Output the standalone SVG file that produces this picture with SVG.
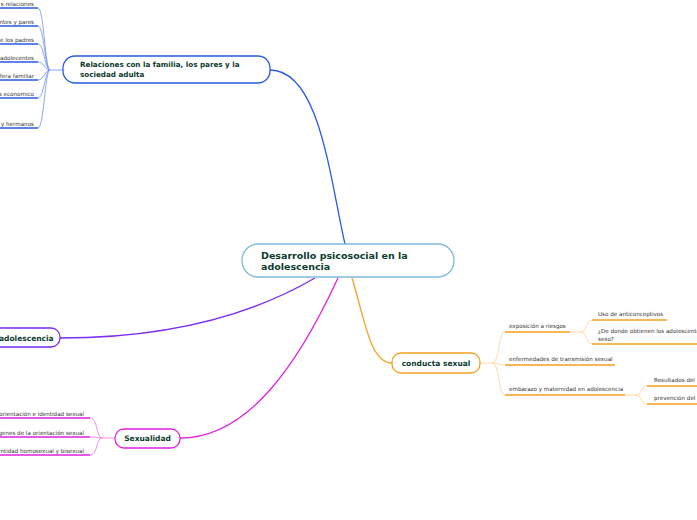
<svg xmlns="http://www.w3.org/2000/svg" width="697" height="520" viewBox="0 0 697 520">
<style>
.t{font-family:"DejaVu Sans",Verdana,sans-serif;font-size:5.6px;fill:#333}
.b{font-family:"DejaVu Sans",Verdana,sans-serif;font-weight:bold;fill:#0d3b2e}
.node{fill:#fff;stroke-width:1.3}
.c{fill:none}
</style>
<rect width="697" height="520" fill="#fff"/>
<g id="connectors">
<path class="c" stroke="#2a5be0" stroke-width="1.3" d="M270,70 C320,70 330,180 345,244"/>
<path class="c" stroke="#7a2cf0" stroke-width="1.3" d="M60,338 C180,338 260,310 315,278"/>
<path class="c" stroke="#e020e0" stroke-width="1.3" d="M180,438 C250,438 300,360 338,278"/>
<path class="c" stroke="#f5a020" stroke-width="1.3" d="M352,278 C365,320 370,363 392,363"/>
<g stroke="#6f8ff0" stroke-width="0.8" fill="none">
<path d="M63,70 H50 C45,70 44,8 38,8"/><path d="M50,70 C45,70 44,26 38,26"/><path d="M50,70 C45,70 44,44 38,44"/><path d="M50,70 C45,70 44,62 38,62"/><path d="M50,70 C45,70 44,80 38,80"/><path d="M50,70 C45,70 44,98 38,98"/><path d="M50,70 C45,70 44,128 38,128"/>
</g>
<g stroke="#2a5be0" stroke-width="1.3"><path d="M0,8H38M0,26H38M0,44H38M0,62H38M0,80H38M0,98H38M0,128H38"/></g>
<g stroke="#f070f0" stroke-width="0.8" fill="none">
<path d="M115,438 H102 C96,438 98,418 90,418"/><path d="M102,438 C96,438 98,437 90,437"/><path d="M102,438 C96,438 98,455 90,455"/>
</g>
<g stroke="#e020e0" stroke-width="1.3"><path d="M0,418H90M0,437H90M0,455H90"/></g>
<g stroke="#ffd090" stroke-width="0.8" fill="none">
<path d="M480,363 H492 C500,363 498,332 505,332"/><path d="M492,363 C500,363 498,365 505,365"/><path d="M492,363 C500,363 498,395 505,395"/>
<path d="M570,332 H580 C588,332 585,320 592,320"/><path d="M580,332 C588,332 585,344 592,344"/>
<path d="M625,395 H635 C643,395 640,386 647,386"/><path d="M635,395 C643,395 640,404 647,404"/>
</g>
<g stroke="#f5a020" stroke-width="1.3">
<path d="M505,332H570M505,365H615M505,395H625M592,320H667M592,344H697M647,386H697M647,404H697"/>
</g>
</g>
<g id="center"><rect class="node" x="242" y="244" width="212" height="33" rx="16" stroke="#7fb8e0"/>
<text class="b" font-size="9.5" x="261" y="259">Desarrollo psicosocial en la</text><text class="b" font-size="9.5" x="261" y="270">adolescencia</text></g>
<g id="relaciones"><rect class="node" x="63" y="56" width="207" height="27" rx="12" stroke="#2a5be0"/>
<text class="b" font-size="7.2" x="80" y="67">Relaciones con la familia, los pares y la</text><text class="b" font-size="7.2" x="80" y="77">sociedad adulta</text></g>
<g id="rel-children" class="t" text-anchor="end">
<text x="34" y="6">s relaciones</text><text x="34" y="24">ntes y pares</text><text x="34" y="42">e los padres</text><text x="34" y="60">adolecentes</text><text x="34" y="78">fera familiar</text><text x="34" y="96">s economico</text><text x="34" y="126">y hermanos</text></g>
<g id="adolescencia"><rect class="node" x="-30" y="328" width="90" height="19" rx="9" stroke="#7a2cf0"/>
<text class="b" font-size="7.5" x="-1" y="341">adolescencia</text></g>
<g id="sexualidad"><rect class="node" x="115" y="429" width="65" height="19" rx="9" stroke="#e020e0"/>
<text class="b" font-size="7.5" x="147.5" y="441" text-anchor="middle">Sexualidad</text></g>
<g id="sex-children" class="t" text-anchor="end">
<text x="84" y="416">orientación e identidad sexual</text><text x="84" y="435">igenes de la orientación sexual</text><text x="84" y="453">entidad homosexual y bisexual</text></g>
<g id="conducta"><rect class="node" x="392" y="353" width="88" height="20" rx="9" stroke="#f5a020"/>
<text class="b" font-size="7.5" x="436" y="366" text-anchor="middle">conducta sexual</text></g>
<g id="cond-children" class="t">
<text x="509" y="328">exposición a riesgos</text><text x="509" y="361">enfermedades de transmisión sexual</text><text x="509" y="391">embarazo y maternidad en adolescencia</text>
<text x="598" y="316">Uso de anticonceptivos</text><text x="598" y="333">¿De donde obtienen los adolescentes</text><text x="598" y="341">sexo?</text>
<text x="654" y="382">Resultados del</text><text x="654" y="400">prevención del</text></g>
</svg>
